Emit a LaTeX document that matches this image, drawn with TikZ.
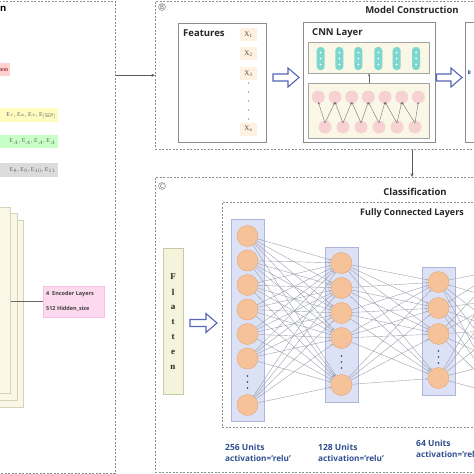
\documentclass[tikz,border=0pt]{standalone}
\usepackage{fontspec}
\setmainfont{Open Sans}
\newfontfamily\serifx{Liberation Serif}
\usetikzlibrary{arrows.meta,calc}
\definecolor{panelc}{HTML}{8D8D8D}
\definecolor{boxc}{HTML}{8C8C8C}
\definecolor{creamf}{HTML}{FBF7E6}
\definecolor{teal}{HTML}{7ED7CF}
\definecolor{pinkc}{HTML}{F7D2D2}
\definecolor{orangef}{HTML}{F6C299}
\definecolor{oranged}{HTML}{E3A575}
\definecolor{layerf}{HTML}{DDE1F6}
\definecolor{layerd}{HTML}{AEB5DA}
\definecolor{fcline}{HTML}{9CA1AC}
\definecolor{blueT}{HTML}{2F4E8E}
\definecolor{arrowb}{HTML}{5565B8}
\definecolor{flatf}{HTML}{F4F4DC}
\definecolor{flatd}{HTML}{C9C9A6}
\begin{document}
\begin{tikzpicture}[x=1pt,y=-1pt,
  panel/.style={draw=panelc,line width=0.6pt,dash pattern=on 2pt off 1.5pt,rectangle,inner sep=0,anchor=north west},
  box/.style={draw=boxc,line width=0.7pt,fill=white,rectangle,inner sep=0,anchor=north west},
  inbox/.style={draw=boxc!80,line width=0.6pt,fill=creamf,rectangle,inner sep=0,anchor=north west},
  ttl/.style={font=\fontsize{9.5}{10}\selectfont\bfseries,text=black!85,inner sep=0},
  arr/.style={draw=black!65,line width=0.7pt,-{Stealth[length=3.5pt,width=3pt]}},
  xbox/.style={fill=orange!12,rectangle,minimum width=17,minimum height=13,inner sep=0,font=\serifx\fontsize{7}{7}\selectfont,text=black!70},
  pill/.style={fill=teal,rounded corners=3.5pt,rectangle,minimum width=8,minimum height=23,inner sep=0},
  pc/.style={circle,fill=pinkc,minimum size=13,inner sep=0},
  zz/.style={draw=black!55,line width=0.4pt,-{Stealth[length=2.5pt,width=2pt]}},
  neuron/.style={circle,fill=orangef,draw=oranged,line width=0.4pt,minimum size=21,inner sep=0},
  layer/.style={rectangle,fill=layerf,draw=layerd,line width=0.6pt,inner sep=0,anchor=north west},
  fc/.style={draw=fcline,line width=0.4pt,-{Stealth[length=2.2pt,width=1.8pt]}},
  fco/.style={draw=fcline,line width=0.4pt},
  unit/.style={font=\fontsize{8.5}{8}\selectfont\bfseries,text=blueT,anchor=west,inner sep=0},
  act/.style={font=\fontsize{8.2}{8}\selectfont\bfseries,text=blueT,anchor=west,inner sep=0},
  emb/.style={rectangle,inner sep=0,anchor=north west},
  embt/.style={font=\serifx\fontsize{6}{6}\selectfont,text=black!60,anchor=east,inner sep=0},
  enc/.style={rectangle,fill=creamf,draw=flatd!80,line width=0.5pt,inner sep=0,anchor=north west},
  circl/.style={circle,draw=black!60,line width=0.4pt,inner sep=0.4pt,font=\fontsize{6}{6}\selectfont,text=black!70},
  hollow/.style={draw=arrowb,line width=1.1pt,fill=white,line join=miter}
]
\useasboundingbox (0,0) rectangle (474,474);
\clip (0,0) rectangle (474,474);

% ---------- Panel A ----------
\node[panel,minimum width=135,minimum height=472] (pa) at (-20,1) {};
\node[anchor=east,inner sep=0,font=\fontsize{9.5}{10}\selectfont\bfseries] (ta) at (6.5,9) {Representation};
\node[emb,fill=red!18,minimum width=15,minimum height=13] (e0) at (-5,63) {};
\node[embt,text=red!50!black] at (8.5,69.5) {Item};
\node[emb,fill=yellow!25,minimum width=63,minimum height=14] (e1) at (-5,108) {};
\node[embt] at (56,115.5) {E$_{r}$, E$_{a}$, E$_{v}$, E$_{[\mathrm{SEP}]}$};
\node[emb,fill=green!22,minimum width=63,minimum height=13] (e2) at (-5,135) {};
\node[embt] at (56,141.5) {E$_{A}$, E$_{A}$, E$_{A}$, E$_{A}$};
\node[emb,fill=black!14,minimum width=63,minimum height=14] (e3) at (-5,163) {};
\node[embt] at (56,170) {E$_{8}$, E$_{9}$, E$_{10}$, E$_{11}$};

\node[enc,minimum width=43,minimum height=187] (enc3) at (-20,220) {};
\node[enc,minimum width=37,minimum height=187] (enc2) at (-20,213) {};
\node[enc,minimum width=30,minimum height=186] (enc1) at (-20,207) {};
\node[rectangle,fill=magenta!15,draw=magenta!25,line width=0.5pt,anchor=north west,minimum width=61,minimum height=31,inner sep=0] (encl) at (43,286) {};
\node[anchor=west,inner sep=0,font=\fontsize{5.5}{6}\selectfont\bfseries,text=black!75] at (46,294) {4\ \ Encoder Layers};
\node[anchor=west,inner sep=0,font=\fontsize{5.5}{6}\selectfont\bfseries,text=black!75] at (46,309) {512 Hidden\_size};
\draw[black!60,line width=0.6pt] (enc1.east |- encl.west) -- (encl.west);

% ---------- Panel B ----------
\node[panel,minimum width=365,minimum height=148] (pb) at (155,1) {};
\node[circl] at (162,7) {B};
\node[ttl] at (412,10) {Model Construction};
\draw[arr] (pa.east |- pb.west) -- (pb.west);

\node[box,minimum width=88,minimum height=119] (feat) at (178,23) {};
\node[ttl,anchor=west] at (183,33) {Features};
\node[xbox] (x1) at (248.5,34.5) {X\textsubscript{1}};
\node[xbox] (x2) at (248.5,53.5) {X\textsubscript{2}};
\node[xbox] (x3) at (248.5,73.5) {X\textsubscript{3}};
\node[xbox] (xn) at (248.5,129) {X\textsubscript{n}};
\foreach \yy in {83,92,101,110,119} \fill[black!60] (248.5,\yy) circle (0.6);

\node[box,minimum width=132,minimum height=120] (cnn) at (303,22) {};
\node[ttl,anchor=west] at (312,33) {CNN Layer};
\node[inbox,minimum width=121,minimum height=31] (ctop) at (308,42) {};
\node[inbox,minimum width=121,minimum height=55] (cbot) at (308,83) {};
\foreach \xx in {320.7,339.3,358.3,378.3,396.7,416}{
  \node[pill] at (\xx,58.5) {};
  \foreach \dy in {-6,0,6} \fill[white] (\xx,58.5+\dy) circle (1);
}
\coordinate (upx) at (369,0);
\draw[draw=black!60,line width=0.5pt,-{Stealth[length=2.5pt,width=2.2pt]}] (cbot.north -| upx) -- (ctop.south -| upx);
\foreach \xx [count=\i] in {318.3,335,351.7,368.3,385,401.7,418.3}
  \node[pc] (t\i) at (\xx,97) {};
\foreach \xx [count=\i] in {325,343,361,379,397,415}
  \node[pc] (b\i) at (\xx,127) {};
\foreach \i [evaluate=\i as \j using int(\i+1)] in {1,...,6}{
  \draw[zz] ($(b\i.center)+(0,-4)$) -- ($(t\i.center)+(0,5)$);
  \draw[zz] ($(b\i.center)+(0,-4)$) -- ($(t\j.center)+(0,5)$);
}
\node[box,minimum width=60,minimum height=120] (nxt) at (465,22) {};
\node[anchor=west,inner sep=0,font=\fontsize{5}{5}\selectfont\bfseries,text=blueT] at (467.5,73) {B};

% hollow arrows
\newcommand{\hollowarr}[3]{\draw[hollow] (#1,#2-3.5) -- (#3-11,#2-3.5) -- (#3-11,#2-9.5) -- (#3,#2) -- (#3-11,#2+9.5) -- (#3-11,#2+3.5) -- (#1,#2+3.5) -- cycle;}
\hollowarr{273}{77.5}{299}
\hollowarr{436.5}{77.5}{462}

% ---------- Panel C ----------
\node[panel,minimum width=365,minimum height=295] (pc) at (155,177) {};
\node[circl] at (162,186) {C};
\node[ttl] at (415,192) {Classification};
\coordinate (bcx) at (412,0);
\draw[arr] (pb.south -| bcx) -- (pc.north -| bcx);
\node[panel,minimum width=300,minimum height=225] (fcl) at (222,202) {};
\node[ttl,font=\fontsize{9}{10}\selectfont\bfseries] at (412,213.5) {Fully Connected Layers};

\node[rectangle,fill=flatf,draw=flatd,line width=0.6pt,anchor=north west,minimum width=20,minimum height=146,inner sep=0] (flat) at (163,248) {};
\foreach \ch [count=\i] in {F,l,a,t,t,e,n}
  \node[inner sep=0,font=\serifx\bfseries\fontsize{9}{9}\selectfont,text=black!85] at (173,262+15*\i) {\ch};
\hollowarr{190}{323}{217}

\node[layer,minimum width=33,minimum height=202] (L1) at (231,219) {};
\node[layer,minimum width=33,minimum height=155] (L2) at (325,247) {};
\node[layer,minimum width=33,minimum height=128] (L3) at (422,267) {};

\foreach \yy [count=\i] in {236,260.5,285,309.5,334,358.5,405}
  \node[neuron] (n1-\i) at (247.5,\yy) {};
\foreach \yy [count=\i] in {263,288,313,338,385}
  \node[neuron] (n2-\i) at (341.5,\yy) {};
\foreach \yy [count=\i] in {282,308,334,378}
  \node[neuron] (n3-\i) at (438.5,\yy) {};
\foreach \yy [count=\i] in {270,300,330,362,395}
  \coordinate (o\i) at (500,\yy);

\foreach \i in {1,...,7}
  \foreach \j in {1,...,5}
    \draw[fc] (n1-\i) -- (n2-\j);
\foreach \i in {1,...,5}
  \foreach \j in {1,...,4}
    \draw[fc] (n2-\i) -- (n3-\j);
\foreach \i in {1,...,4}
  \foreach \j in {1,...,5}
    \draw[fco] (n3-\i) -- (o\j);

\foreach \xx/\yy in {247.5/382,341.5/362,438.5/357}
  \foreach \dy in {-6,0,6} \fill[blueT!80!black] (\xx,\yy+\dy) circle (0.9);

\node[unit] at (225,447) {256 Units};
\node[act] at (225,458) {activation='relu'};
\node[unit] at (318,447) {128 Units};
\node[act] at (318,458) {activation='relu'};
\node[unit] at (416,443) {64 Units};
\node[act] at (416,454) {activation='relu'};
\end{tikzpicture}
\end{document}
